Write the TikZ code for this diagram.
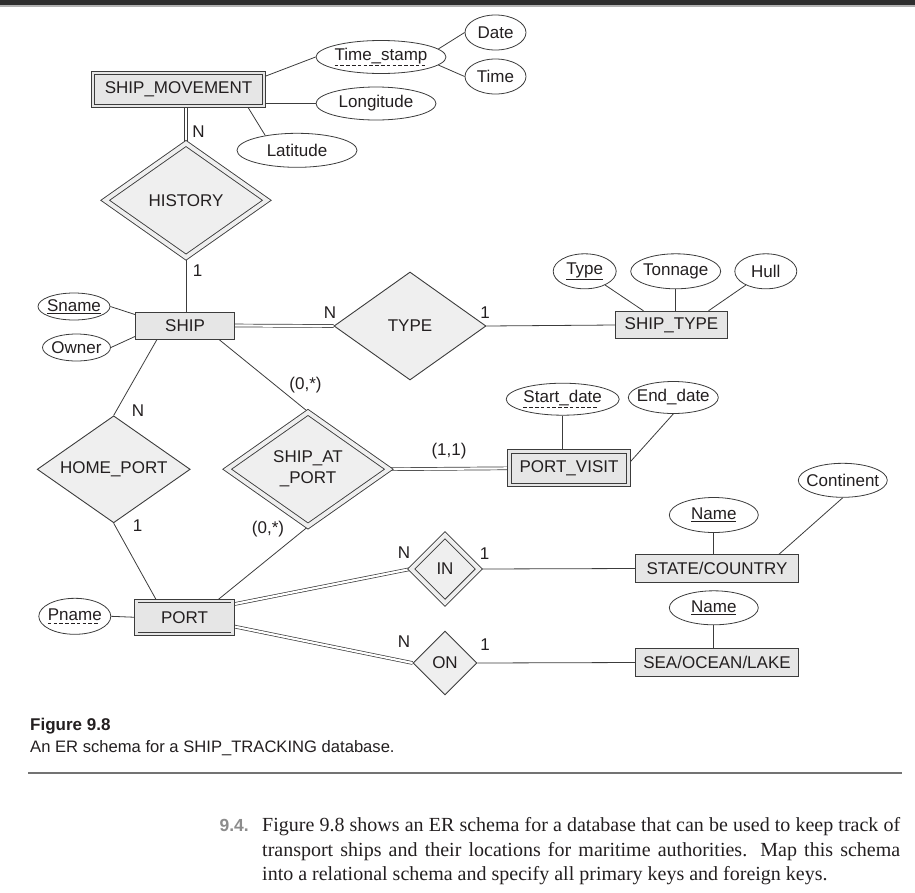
\documentclass[tikz,border=0pt]{standalone}
\usepackage{fontspec}
\setmainfont{Liberation Sans}
\newfontfamily\bookfont{Liberation Serif}
\usetikzlibrary{shapes.geometric,backgrounds}

\definecolor{ink}{HTML}{231F20}
\definecolor{edgegray}{HTML}{3C3C3C}
\definecolor{entgray}{HTML}{E6E6E6}
\definecolor{relgray}{HTML}{EFEFEF}

\newsavebox\keybox
\newcommand{\pkey}[1]{\sbox\keybox{#1}\vtop{\copy\keybox\kern1.5pt\hrule height 0.9pt width \wd\keybox}}
\newcommand{\partkey}[1]{\sbox\keybox{#1}\vtop{\copy\keybox\nointerlineskip\kern1.5pt
  \hbox to \wd\keybox{\leaders\hbox{\vrule width 3.6pt height 0.9pt depth 0pt\kern 2.2pt}\hfill}}}

\begin{document}
\begin{tikzpicture}[x=1pt,y=-1pt,
  every node/.style={text=ink,font=\fontsize{17}{21}\selectfont},
  entity/.style={draw=edgegray,line width=0.9pt,fill=entgray,inner sep=0pt},
  weakentity/.style={entity,double=entgray,double distance=2.6pt},
  relation/.style={diamond,aspect=1.4,draw=edgegray,line width=0.9pt,fill=relgray,inner sep=0pt},
  idrelation/.style={relation,double=relgray,double distance=4pt},
  attrib/.style={ellipse,draw=edgegray,line width=0.8pt,fill=white,inner xsep=-8pt,inner ysep=0pt},
  link/.style={draw=edgegray,line width=0.8pt},
  totallink/.style={draw=edgegray,line width=0.7pt,double=white,double distance=2.2pt}]
\useasboundingbox (0,0) rectangle (915,892);
\fill[black!82] (0,0) rectangle (915,5);
\fill[black!30] (0,5) rectangle (915,7);

\node[weakentity,minimum width=171pt,minimum height=33pt] (smove) at (178.5,89.5) {SHIP\_MOVEMENT};
\node[entity,minimum width=99pt,minimum height=27pt] (ship) at (185,325.5) {SHIP};
\node[entity,minimum width=112pt,minimum height=27.5pt] (shtype) at (671.5,325) {SHIP\_TYPE};
\node[weakentity,minimum width=119pt,minimum height=33.5pt] (pvisit) at (569,468.3) {PORT\_VISIT};
\node[weakentity,minimum width=96.5pt,minimum height=33pt] (port) at (184.5,617.3) {PORT};
\node[entity,minimum width=163pt,minimum height=27.5pt] (scountry) at (717,568.5) {STATE/COUNTRY};
\node[entity,minimum width=163pt,minimum height=27.5pt] (sea) at (717,662.5) {SEA/OCEAN/LAKE};

\node[idrelation,minimum width=162pt,minimum height=114pt] (hist) at (186,200.3) {HISTORY};
\node[relation,minimum width=152pt,minimum height=108pt] (typ) at (410,326) {TYPE};
\node[relation,minimum width=153pt,minimum height=107pt] (hport) at (113.7,469.3) {HOME\_PORT};
\node[idrelation,minimum width=162pt,minimum height=114pt,align=center] (sap) at (308,469.2) {SHIP\_AT\\\_PORT};
\node[idrelation,minimum width=68pt,minimum height=68pt] (inrel) at (445,569) {IN};
\node[relation,minimum width=64pt,minimum height=64pt] (onrel) at (445,663) {ON};

\node[attrib,minimum width=130pt,minimum height=33pt] (tstamp) at (381,57) {\partkey{Time\_stamp}};
\node[attrib,minimum width=61pt,minimum height=35pt] (tdate) at (495.5,32.5) {Date};
\node[attrib,minimum width=61pt,minimum height=35pt] (ttime) at (495.5,76.5) {Time};
\node[attrib,minimum width=120pt,minimum height=33pt] (longi) at (376,103.5) {Longitude};
\node[attrib,minimum width=120pt,minimum height=34pt] (lati) at (297,150.3) {Latitude};
\node[attrib,minimum width=72pt,minimum height=27pt] (sname) at (74,306.5) {\pkey{Sname}};
\node[attrib,minimum width=68pt,minimum height=27pt] (owner) at (76.5,347.5) {Owner};
\node[attrib,minimum width=63pt,minimum height=35pt] (tyattr) at (584.7,271.3) {\pkey{Type}};
\node[attrib,minimum width=90pt,minimum height=35pt] (tonn) at (675.7,271.3) {Tonnage};
\node[attrib,minimum width=62pt,minimum height=35pt] (hull) at (765.8,271.3) {Hull};
\node[attrib,minimum width=113pt,minimum height=32pt] (sdate) at (562.7,399.2) {\partkey{Start\_date}};
\node[attrib,minimum width=90pt,minimum height=32pt] (edate) at (673.3,397.5) {End\_date};
\node[attrib,minimum width=89pt,minimum height=34pt] (cont) at (842.8,480.3) {Continent};
\node[attrib,minimum width=89pt,minimum height=35pt] (cname) at (713.8,515) {\pkey{Name}};
\node[attrib,minimum width=89pt,minimum height=34pt] (wname) at (713.8,607.8) {\pkey{Name}};
\node[attrib,minimum width=72pt,minimum height=36pt] (pname) at (74.8,616.3) {\partkey{Pname}};

\node (histN) at (198.5,132) {N};
\node (hist1) at (197.5,271) {1};
\node (typeN) at (330,312.5) {N};
\node (type1) at (485,313) {1};
\node (hportN) at (138,411) {N};
\node (hport1) at (137.5,526) {1};
\node (sapship) at (305.5,385.5) {(0,*)};
\node (sapport) at (268,529) {(0,*)};
\node (sapvisit) at (449,451.5) {(1,1)};
\node (inN) at (404,552.5) {N};
\node (in1) at (484.5,553.3) {1};
\node (onN) at (404,641.7) {N};
\node (on1) at (485,645) {1};

\begin{scope}[on background layer]
\draw[link] ([yshift=-4pt]smove.north east) -- (tstamp.west);
\draw[link] (smove.east |- longi.west) -- (longi.west);
\draw[link] ([xshift=-17pt]smove.south east) -- (lati.155);
\draw[link] (tstamp.8) -- (tdate.west);
\draw[link] (tstamp.-8) -- (ttime.west);
\draw[totallink] (hist.north |- smove.south) -- (hist.north);
\draw[link] (hist.south) -- (hist.south |- ship.north);
\draw[link] (sname.east) -- ([yshift=-3pt]ship.north west);
\draw[link] (owner.east) -- ([yshift=3pt]ship.south west);
\draw[totallink] (ship.east) -- (typ.west);
\draw[link] (typ.east) -- (shtype.west);
\draw[link] (tyattr) -- ([xshift=-28pt]shtype.north);
\draw[link] (tonn.south) -- (tonn.south |- shtype.north);
\draw[link] (hull) -- ([xshift=37pt]shtype.north);
\draw[link] ([xshift=-28pt]ship.south) -- (hport.north);
\draw[link] (hport.south) -- ([xshift=-28pt]port.north);
\draw[link] ([xshift=-16pt]ship.south east) -- (sap.north);
\draw[link] (sap.south) -- ([xshift=-16pt]port.north east);
\draw[totallink] (sap.east) -- (pvisit.west);
\draw[link] (sdate.south) -- (sdate.south |- pvisit.north);
\draw[link] (edate.south) -- ([yshift=5pt]pvisit.east);
\draw[totallink] ([yshift=13pt]port.east) -- (inrel.west);
\draw[totallink] ([yshift=-9pt]port.east) -- (onrel.west);
\draw[link] (inrel.east) -- (scountry.west);
\draw[link] (onrel.east) -- (sea.west);
\draw[link] (cname.south) -- (cname.south |- scountry.north);
\draw[link] (cont.south) -- ([xshift=-20pt]scountry.north east);
\draw[link] (wname.south) -- (wname.south |- sea.north);
\draw[link] (pname.east) -- (port.west);
\end{scope}

\node[anchor=base west,inner sep=0pt,font=\fontsize{17}{20}\selectfont\bfseries] (figno) at (30,730.7) {Figure 9.8};
\node[anchor=base west,inner sep=0pt,font=\fontsize{16.6}{20}\selectfont] (figcap) at (30,752.3) {An ER schema for a SHIP\_TRACKING database.};
\draw[black!55,line width=1.8pt] (28,772.7) -- (902,772.7);

\node[anchor=base east,inner sep=0pt,text=black!45,font=\fontsize{17.5}{19}\selectfont\bfseries] (exnum) at (249,831.7) {9.4.};
\node[anchor=base west,inner sep=0pt,font=\bookfont\fontsize{20}{24}\selectfont] (exline1) at (262,831.7) {\makebox[638pt][s]{Figure 9.8 shows an ER schema for a database that can be used to keep track of}};
\node[anchor=base west,inner sep=0pt,font=\bookfont\fontsize{20}{24}\selectfont] (exline2) at (262,856) {\makebox[638pt][s]{transport ships and their locations for maritime authorities. Map this schema}};
\node[anchor=base west,inner sep=0pt,font=\bookfont\fontsize{20}{24}\selectfont] (exline3) at (262,880.3) {into a relational schema and specify all primary keys and foreign keys.};
\end{tikzpicture}
\end{document}
